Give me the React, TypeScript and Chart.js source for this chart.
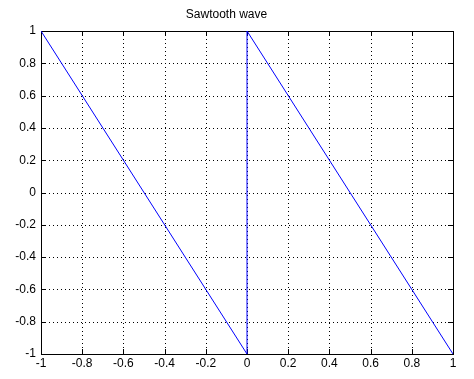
import React, { useEffect, useRef } from "react";
import { Chart, registerables } from "chart.js";

Chart.register(...registerables);

const titleText = "Sawtooth wave";
const xValues = [-1, 0, 0, 1];
const yValues = [1, -1, 1, -1];
const axisMin = -1;
const axisMax = 1;
const tickStep = 0.2;

const fmt = (v: number) => {
  const r = Math.round(v * 10) / 10;
  if (Math.abs(r) < 1e-9) return "0";
  return String(r);
};

const FONT = "'Liberation Sans', Arial, sans-serif";

const framePlugin = {
  id: "matlabFrame",
  beforeDatasetsDraw(chart: any) {
    const { ctx, chartArea, scales } = chart;
    const { left, right, top, bottom } = chartArea;
    ctx.save();
    ctx.strokeStyle = "#000";
    ctx.lineWidth = 1;
    ctx.setLineDash([1, 3]);
    scales.x.ticks.forEach((t: any) => {
      const px = Math.round(scales.x.getPixelForValue(t.value)) + 0.5;
      if (px <= left + 1 || px >= right - 1) return;
      ctx.beginPath();
      ctx.moveTo(px, top);
      ctx.lineTo(px, bottom);
      ctx.stroke();
    });
    scales.y.ticks.forEach((t: any) => {
      const py = Math.round(scales.y.getPixelForValue(t.value)) + 0.5;
      if (py <= top + 1 || py >= bottom - 1) return;
      ctx.beginPath();
      ctx.moveTo(left, py);
      ctx.lineTo(right, py);
      ctx.stroke();
    });
    ctx.setLineDash([]);
    const tl = 5;
    scales.x.ticks.forEach((t: any) => {
      const px = Math.round(scales.x.getPixelForValue(t.value)) + 0.5;
      ctx.beginPath();
      ctx.moveTo(px, bottom);
      ctx.lineTo(px, bottom - tl);
      ctx.moveTo(px, top);
      ctx.lineTo(px, top + tl);
      ctx.stroke();
    });
    scales.y.ticks.forEach((t: any) => {
      const py = Math.round(scales.y.getPixelForValue(t.value)) + 0.5;
      ctx.beginPath();
      ctx.moveTo(left, py);
      ctx.lineTo(left + tl, py);
      ctx.moveTo(right, py);
      ctx.lineTo(right - tl, py);
      ctx.stroke();
    });
    ctx.strokeRect(Math.round(left) + 0.5, Math.round(top) + 0.5, Math.round(right - left), Math.round(bottom - top));
    ctx.restore();
  },
};

export default function App() {
  const ref = useRef<HTMLCanvasElement | null>(null);
  useEffect(() => {
    document.body.style.margin = "0";
    const canvas = ref.current;
    if (!canvas) return;
    const chart = new Chart(canvas, {
      type: "scatter",
      data: {
        datasets: [
          {
            data: xValues.map((x, i) => ({ x, y: yValues[i] })),
            showLine: true,
            borderColor: "#0000ff",
            borderWidth: 1,
            pointRadius: 0,
            fill: false,
            tension: 0,
          },
        ],
      },
      options: {
        responsive: false,
        animation: false,
        devicePixelRatio: 1,
        layout: { padding: { left: 0, right: 21, top: 0, bottom: 0 } },
        plugins: {
          legend: { display: false },
          tooltip: { enabled: false },
          title: {
            display: true,
            text: titleText,
            color: "#000",
            font: { family: FONT, size: 12, weight: "normal" },
            padding: { top: 7, bottom: 9.6 },
          },
        },
        scales: {
          x: {
            type: "linear",
            min: axisMin,
            max: axisMax,
            grid: { display: false, drawTicks: false },
            border: { display: false },
            afterFit: (s: any) => {
              s.height = 25;
            },
            ticks: {
              stepSize: tickStep,
              padding: 2,
              color: "#000",
              maxRotation: 0,
              autoSkip: false,
              font: { family: FONT, size: 12 },
              callback: (v: any) => fmt(Number(v)),
            },
          },
          y: {
            type: "linear",
            min: axisMin,
            max: axisMax,
            grid: { display: false, drawTicks: false },
            border: { display: false },
            afterFit: (s: any) => {
              s.width = 41;
            },
            ticks: {
              stepSize: tickStep,
              padding: 5,
              color: "#000",
              autoSkip: false,
              font: { family: FONT, size: 12 },
              callback: (v: any) => fmt(Number(v)),
            },
          },
        },
      },
      plugins: [framePlugin],
    });
    return () => chart.destroy();
  }, []);
  return (
    <div style={{ width: 474, height: 379, background: "#fff" }}>
      <canvas ref={ref} width={474} height={379} style={{ display: "block" }} />
    </div>
  );
}
